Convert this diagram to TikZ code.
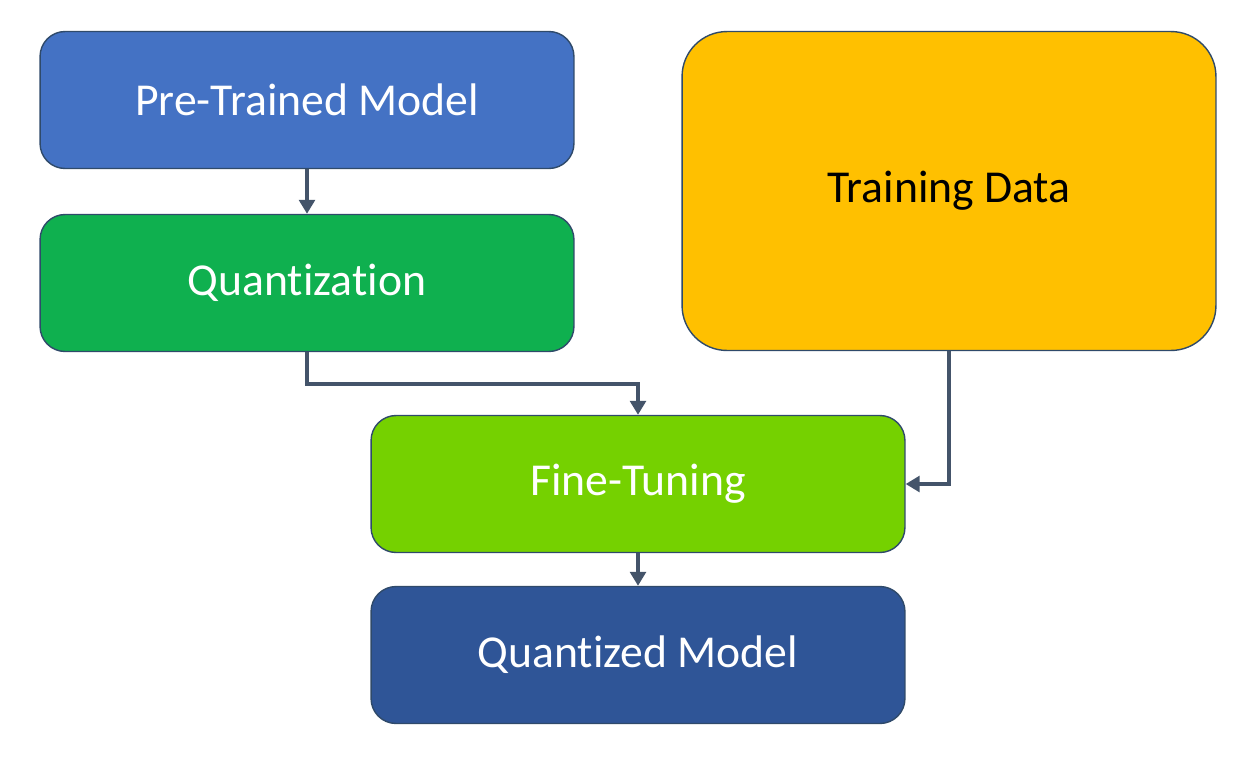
\documentclass[tikz,border=0pt]{standalone}
\usepackage{fontspec}
\setmainfont[Ligatures=NoCommon]{Carlito}
\usetikzlibrary{arrows.meta}
\definecolor{boxblue}{HTML}{4472C4}
\definecolor{boxgreen}{HTML}{0FB04F}
\definecolor{boxlime}{HTML}{75D100}
\definecolor{boxgold}{HTML}{FFC000}
\definecolor{boxnavy}{HTML}{2F5597}
\definecolor{edgecol}{HTML}{2F4A6A}
\definecolor{wirecol}{HTML}{44546A}
\tikzset{
  stage/.style={draw=edgecol, line width=0.8pt, rounded corners=0.5cm, minimum width=10.68cm, minimum height=2.74cm, text=white, font=\fontsize{26}{30}\selectfont},
  wire/.style={wirecol, line width=2pt, -{Triangle[length=8pt, width=9pt]}}
}
\begin{document}
\begin{tikzpicture}[x=0.02cm, y=-0.02cm]
\useasboundingbox (0,0) rectangle (1260,761);
\node[stage, fill=boxblue] (pretrained) at (307,100) {Pre-Trained Model};
\node[stage, fill=boxgreen] (quant) at (307,283) {Quantization};
\node[stage, fill=boxgold, text=black, minimum height=6.38cm, rounded corners=0.9cm] (data) at (949,191) {\raisebox{-3pt}{Training Data}};
\node[stage, fill=boxlime] (finetune) at (638,484) {Fine-Tuning};
\node[stage, fill=boxnavy] (qmodel) at (638,655) {Quantized Model};
\draw[wire](pretrained)--(quant);
\draw[wire](quant.south)--++(0,32)-|(finetune.north);
\draw[wire](data.south)|-(finetune.east);
\draw[wire](finetune)--(qmodel);
\end{tikzpicture}
\end{document}
